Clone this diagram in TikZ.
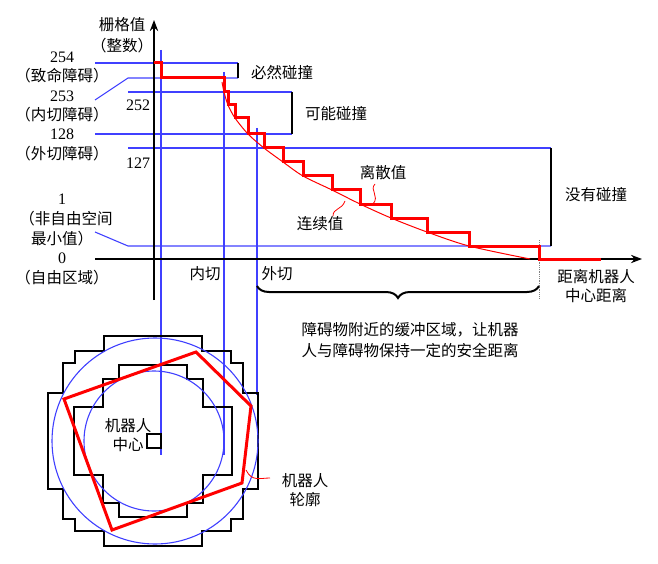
\documentclass[tikz,border=0pt]{standalone}
\usepackage{fontspec}
\setmainfont{Liberation Serif}
\newfontfamily\cjk{Noto Sans CJK SC}
\usetikzlibrary{decorations.pathreplacing,decorations.pathmorphing,arrows.meta}
\begin{document}
\begin{tikzpicture}[x=1pt,y=-1pt,
  bl/.style={blue!75!white,line width=1.1pt},
  rd/.style={red,line width=3pt},
  bk/.style={black,line width=2.6pt},
  lab/.style={inner sep=0pt,font=\cjk\fontsize{15.5}{17}\selectfont,align=center},
  num/.style={inner sep=0pt,font=\fontsize{16}{18}\selectfont}]
\useasboundingbox (0,0) rectangle (658,564);
% blue guide lines
\draw[bl] (161,50) -- (161,455);
\draw[bl] (224,72) -- (224,455);
\draw[bl] (257,128) -- (257,395);
\draw[bl] (95,63) -- (238,63);
\draw[bl] (95,100) -- (128,78) -- (238,78);
\draw[bl] (128,92) -- (292,92);
\draw[bl] (95,134) -- (292,134);
\draw[bl] (128,148) -- (551,148);
\draw[bl] (95,232) -- (128,246) -- (551,246);
\draw[bk] (238,63) -- (238,78);
\draw[bk] (292,92) -- (292,134);
\draw[bk] (551,148) -- (551,246);
\draw[gray,densely dotted,line width=0.8pt] (539,240) -- (539,298);
% axes
\draw[black,line width=2pt,-{Stealth[length=11pt]}] (154,300) -- (154,20);
\draw[black,line width=2pt,-{Stealth[length=11pt]}] (95,259) -- (642,259);
% continuous curve
\draw[red,line width=1pt] plot[smooth] coordinates {(222,82) (224,92) (228,105) (235,118) (248,134) (264,148) (283,162) (303,176) (332,190) (360,204) (391,218) (427,232) (469,246) (530,259)};
% stairs
\draw[rd,line join=miter] (154,63) -- (161,63) -- (161,78) -- (224,78) -- (224,92) -- (228,92) -- (228,105) -- (235,105) -- (235,118) -- (248,118) -- (248,134) -- (264,134) -- (264,148) -- (283,148) -- (283,162) -- (303,162) -- (303,176) -- (332,176) -- (332,190) -- (360,190) -- (360,204) -- (391,204) -- (391,218) -- (427,218) -- (427,232) -- (469,232) -- (469,246) -- (539,246) -- (539,259) -- (601,259);
% callouts
\draw[red,line width=0.8pt] (375,184) .. controls (369,190) and (380,196) .. (373,204);
\draw[red,line width=0.8pt] (333,216) .. controls (333,208) and (342,210) .. (345,201);
% brace
\draw[black,line width=2pt,decorate,decoration={brace,mirror,amplitude=12pt}] (257,286) -- (539,286);
% labels
\node[lab] (t1) at (122,25) {栅格值};
\node[lab] (t2) at (122,46) {（整数）};
\node[num] (n254) at (62,57) {254};
\node[lab] (l254) at (62,76) {（致命障碍）};
\node[num] (n253) at (62,96) {253};
\node[lab] (l253) at (62,115) {（内切障碍）};
\node[num] (n128) at (62,134) {128};
\node[lab] (l128) at (62,154) {（外切障碍）};
\node[num] (n1) at (62,199) {1};
\node[lab] (l1) at (66,219) {（非自由空间};
\node[lab] (l1b) at (62,239) {最小值）};
\node[num] (n0) at (62,258) {0};
\node[lab] (l0) at (62,278) {（自由区域）};
\node[num] (n252) at (138,105) {252};
\node[num] (n127) at (138,163) {127};
\node[lab] (c1) at (282,73) {必然碰撞};
\node[lab] (c2) at (336,114) {可能碰撞};
\node[lab] (c3) at (596,195) {没有碰撞};
\node[lab] (nq) at (205,274) {内切};
\node[lab] (wq) at (277,274) {外切};
\node[lab] (ls) at (383,173) {离散值};
\node[lab] (lx) at (320,224) {连续值};
\node[lab] (xa) at (596,286) {距离机器人\\[2pt]中心距离};
\node[lab] (br) at (410,340) {障碍物附近的缓冲区域，让机器\\[4pt]人与障碍物保持一定的安全距离};
% robot
\begin{scope}[shift={(153,441)}]
\draw[black,line width=1.8pt] (-49,-105) -- (49,-105) -- (49,-90) -- (78,-90) -- (78,-78) -- (90,-78) -- (90,-48) -- (105,-48) -- (105,48) -- (90,48) -- (90,78) -- (78,78) -- (78,90) -- (49,90) -- (49,105) -- (-49,105) -- (-49,90) -- (-78,90) -- (-78,78) -- (-90,78) -- (-90,48) -- (-105,48) -- (-105,-48) -- (-90,-48) -- (-90,-78) -- (-78,-78) -- (-78,-90) -- (-49,-90) -- cycle;
\draw[black,line width=1.8pt] (-34,-76) -- (34,-76) -- (34,-62) -- (50,-62) -- (50,-34) -- (79,-34) -- (79,34) -- (50,34) -- (50,62) -- (34,62) -- (34,76) -- (-34,76) -- (-34,62) -- (-50,62) -- (-50,34) -- (-79,34) -- (-79,-34) -- (-50,-34) -- (-50,-62) -- (-34,-62) -- cycle;
\draw[bl] (1,0) circle[radius=70];
\draw[bl] (2,0) circle[radius=103];
\end{scope}
\draw[rd,line join=miter] (64,399) -- (196,352) -- (251,406) -- (242,483) -- (112,530) -- cycle;
\draw[black,line width=1.8pt] (147,434) rectangle (161,448);
\node[lab] (rc) at (128,435) {机器人\\[2pt]中心};
\node[lab] (rl) at (305,490) {机器人\\[2pt]轮廓};
\draw[red,line width=0.8pt] (246,470) .. controls (252,482) and (260,478) .. (270,478);
\end{tikzpicture}
\end{document}
